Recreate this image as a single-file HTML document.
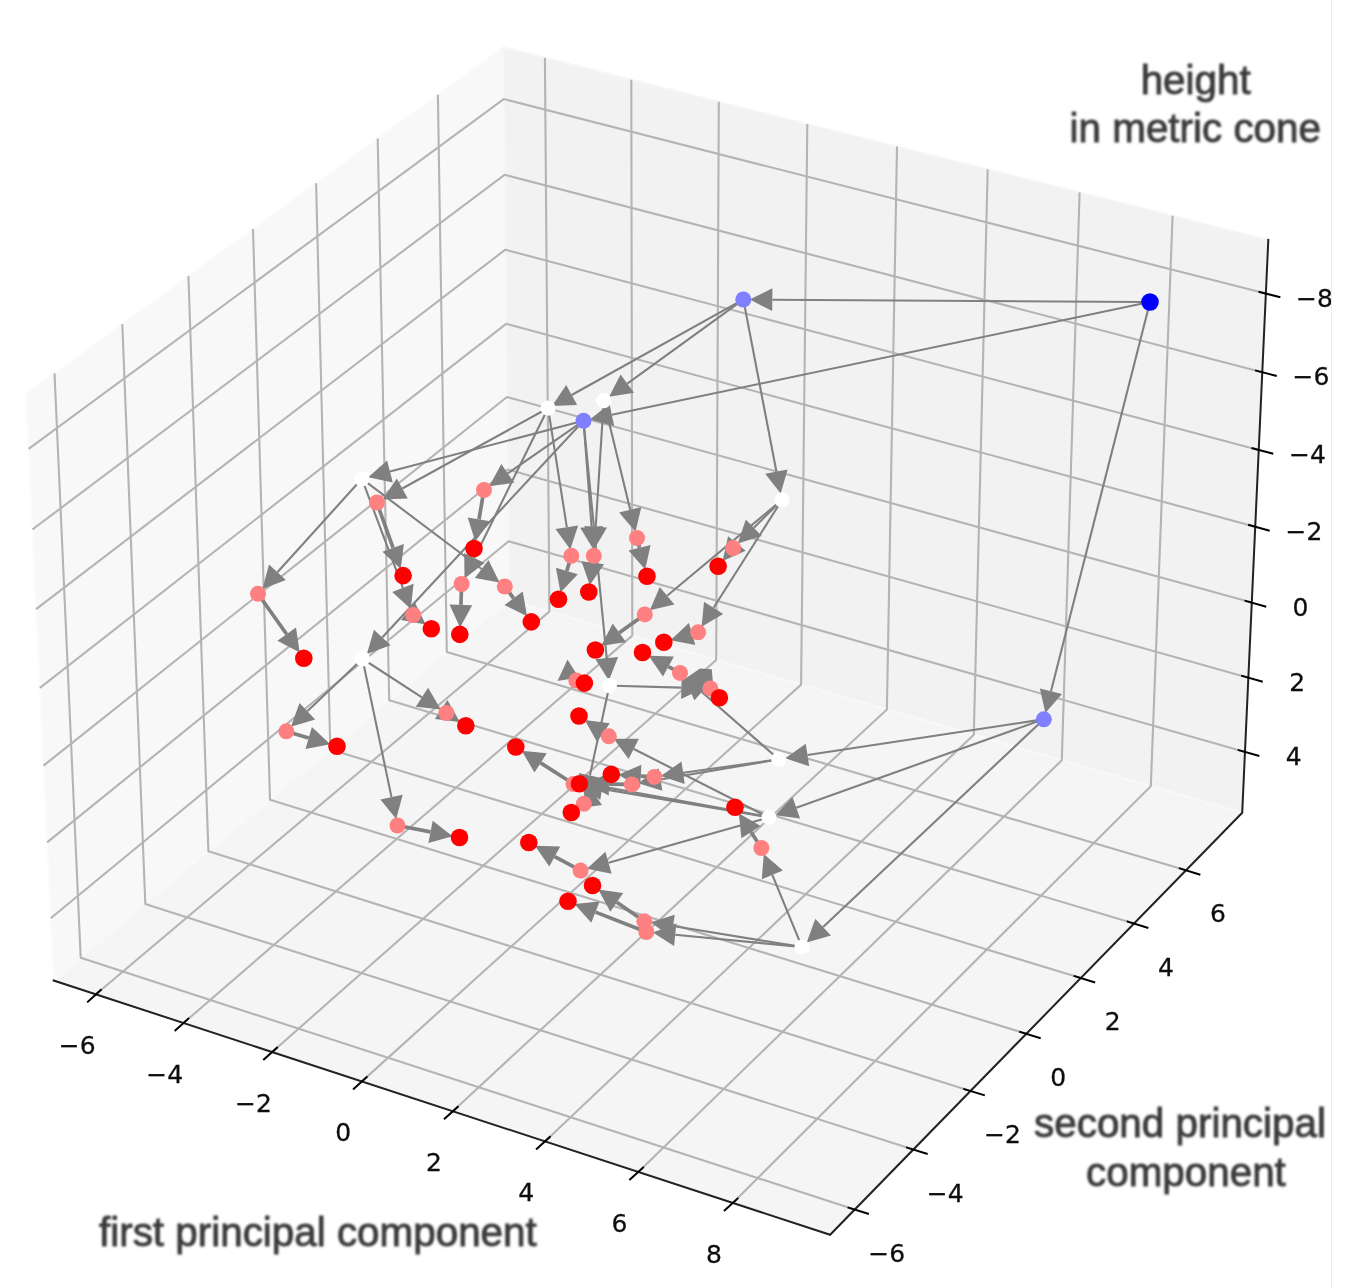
<!DOCTYPE html>
<html><head><meta charset="utf-8"><title>plot</title>
<style>
html,body{margin:0;padding:0;background:#fff;}
body{width:1360px;height:1288px;overflow:hidden;position:relative;}
svg{position:absolute;left:0;top:0;display:block;}
.edge{position:absolute;left:1331px;top:0;width:1px;height:1288px;background:#ececec;}
</style></head><body>
<svg width="1360" height="1288" viewBox="0 0 1360 1288">
<defs>
<filter id="b1" x="-5%" y="-5%" width="110%" height="110%"><feGaussianBlur stdDeviation="0.7"/></filter>
<filter id="b2" x="-5%" y="-5%" width="110%" height="110%"><feGaussianBlur stdDeviation="0.7"/></filter>
<filter id="b3" x="-5%" y="-5%" width="110%" height="110%"><feGaussianBlur stdDeviation="1.0"/></filter>
<clipPath id="cl"><rect x="0" y="0" width="1331" height="1288"/></clipPath>
</defs>
<g clip-path="url(#cl)">
<g stroke-linejoin="round">
<polygon points="53.7,980.5 509.2,599.9 503.1,47.4 26.0,393.9" fill="#f8f8f8" stroke="#fbfbfb" stroke-width="2"/>
<polygon points="509.2,599.9 1242.2,812.7 1268.3,239.9 503.1,47.4" fill="#f2f2f2" stroke="#f6f6f6" stroke-width="2"/>
<polygon points="53.7,980.5 830.1,1234.8 1242.2,812.7 509.2,599.9" fill="#f5f5f5" stroke="#f8f8f8" stroke-width="2"/>
</g>
<g fill="none" stroke="#b4b4b4" stroke-width="2.1" stroke-linejoin="round" filter="url(#b1)">
<polyline points="96.0,994.3 549.4,611.6 544.9,57.9"/>
<polyline points="183.5,1023.0 632.3,635.6 631.3,79.7"/>
<polyline points="272.2,1052.0 716.2,660.0 718.8,101.7"/>
<polyline points="361.9,1081.4 801.1,684.6 807.3,123.9"/>
<polyline points="452.8,1111.2 886.9,709.6 897.0,146.5"/>
<polyline points="545.0,1141.4 973.8,734.8 987.7,169.3"/>
<polyline points="638.3,1172.0 1061.8,760.3 1079.6,192.4"/>
<polyline points="732.8,1202.9 1150.8,786.2 1172.6,215.8"/>
<polyline points="854.7,1209.6 80.7,957.8 54.5,373.2"/>
<polyline points="913.3,1149.6 145.3,903.9 122.3,324.0"/>
<polyline points="970.5,1091.0 208.4,851.2 188.4,275.9"/>
<polyline points="1026.3,1033.8 270.0,799.7 253.0,229.0"/>
<polyline points="1080.8,978.0 330.3,749.4 316.1,183.2"/>
<polyline points="1134.0,923.5 389.2,700.2 377.7,138.4"/>
<polyline points="1186.0,870.3 446.8,652.0 437.9,94.7"/>
<polyline points="28.6,448.9 503.7,99.1 1265.8,293.6"/>
<polyline points="32.4,529.5 504.5,174.8 1262.3,372.2"/>
<polyline points="36.1,609.2 505.3,249.7 1258.7,449.9"/>
<polyline points="39.9,687.8 506.1,323.8 1255.2,526.7"/>
<polyline points="43.5,765.6 507.0,397.0 1251.8,602.6"/>
<polyline points="47.1,842.4 507.8,469.5 1248.4,677.7"/>
<polyline points="50.7,918.3 508.6,541.2 1245.0,751.9"/>
</g>
<g stroke="#808080" stroke-width="2.1" fill="#808080" filter="url(#b2)">
<line x1="1146.0" y1="302.0" x2="772.3" y2="299.7"/>
<polygon points="749.8,299.5 772.4,288.3 772.2,311.1" stroke="none"/>
<line x1="1146.1" y1="302.8" x2="611.9" y2="414.8"/>
<polygon points="589.9,419.5 609.5,403.7 614.2,426.0" stroke="none"/>
<line x1="1149.0" y1="305.9" x2="1051.0" y2="691.2"/>
<polygon points="1045.4,713.0 1039.9,688.4 1062.0,694.0" stroke="none"/>
<line x1="739.8" y1="301.4" x2="571.7" y2="395.0"/>
<polygon points="552.0,405.9 566.2,385.0 577.2,404.9" stroke="none"/>
<line x1="740.1" y1="301.8" x2="627.3" y2="383.6"/>
<polygon points="609.1,396.8 620.6,374.4 634.0,392.8" stroke="none"/>
<line x1="744.1" y1="303.4" x2="776.4" y2="471.5"/>
<polygon points="780.7,493.6 765.2,473.7 787.6,469.4" stroke="none"/>
<line x1="1039.8" y1="719.9" x2="807.5" y2="755.0"/>
<polygon points="785.2,758.3 805.8,743.7 809.2,766.2" stroke="none"/>
<line x1="1040.0" y1="720.6" x2="796.3" y2="807.7"/>
<polygon points="775.1,815.3 792.5,797.0 800.1,818.5" stroke="none"/>
<line x1="1040.9" y1="722.0" x2="823.1" y2="927.1"/>
<polygon points="806.7,942.5 815.3,918.8 830.9,935.4" stroke="none"/>
<line x1="580.8" y1="423.7" x2="382.2" y2="637.5"/>
<polygon points="366.9,654.0 373.9,629.8 390.6,645.3" stroke="none"/>
<line x1="579.6" y1="421.8" x2="390.0" y2="471.5"/>
<polygon points="368.2,477.2 387.1,460.4 392.8,482.5" stroke="none"/>
<line x1="583.9" y1="424.8" x2="606.7" y2="658.2"/>
<polygon points="608.9,680.6 595.4,659.3 618.1,657.1" stroke="none"/>
<line x1="580.2" y1="423.1" x2="507.8" y2="473.4"/>
<polygon points="489.3,486.3 501.3,464.1 514.3,482.8" stroke="none"/>
<line x1="583.8" y1="424.8" x2="591.6" y2="526.9"/>
<polygon points="593.3,549.3 580.2,527.8 603.0,526.0" stroke="none"/>
<line x1="544.6" y1="410.0" x2="402.3" y2="488.5"/>
<polygon points="382.6,499.4 396.8,478.5 407.8,498.5" stroke="none"/>
<line x1="546.3" y1="411.7" x2="474.4" y2="558.0"/>
<polygon points="464.5,578.2 464.2,552.9 484.6,563.0" stroke="none"/>
<line x1="548.7" y1="412.1" x2="566.8" y2="527.2"/>
<polygon points="570.3,549.4 555.5,528.9 578.1,525.4" stroke="none"/>
<line x1="603.5" y1="404.6" x2="595.7" y2="526.9"/>
<polygon points="594.2,549.3 584.3,526.1 607.0,527.6" stroke="none"/>
<line x1="604.7" y1="404.5" x2="630.2" y2="509.8"/>
<polygon points="635.5,531.7 619.1,512.5 641.3,507.1" stroke="none"/>
<line x1="779.1" y1="502.8" x2="753.8" y2="527.7"/>
<polygon points="737.7,543.5 745.8,519.6 761.8,535.9" stroke="none"/>
<line x1="778.8" y1="502.6" x2="667.1" y2="595.8"/>
<polygon points="649.8,610.2 659.8,587.1 674.4,604.6" stroke="none"/>
<line x1="779.8" y1="503.4" x2="713.6" y2="607.8"/>
<polygon points="701.6,626.8 704.0,601.7 723.2,613.9" stroke="none"/>
<line x1="359.2" y1="481.8" x2="277.4" y2="572.3"/>
<polygon points="262.4,589.0 269.0,564.6 285.9,579.9" stroke="none"/>
<line x1="363.3" y1="482.5" x2="402.9" y2="587.9"/>
<polygon points="410.8,608.9 392.2,591.9 413.6,583.8" stroke="none"/>
<line x1="365.1" y1="481.2" x2="481.6" y2="569.0"/>
<polygon points="499.6,582.6 474.8,578.1 488.5,559.9" stroke="none"/>
<line x1="359.6" y1="661.6" x2="307.3" y2="711.3"/>
<polygon points="291.0,726.8 299.5,703.1 315.2,719.6" stroke="none"/>
<line x1="365.9" y1="661.0" x2="421.9" y2="697.3"/>
<polygon points="440.8,709.5 415.8,706.8 428.1,687.7" stroke="none"/>
<line x1="363.3" y1="662.7" x2="391.5" y2="797.1"/>
<polygon points="396.2,819.1 380.4,799.5 402.7,794.8" stroke="none"/>
<line x1="613.4" y1="685.7" x2="681.4" y2="687.6"/>
<polygon points="703.9,688.2 681.1,699.0 681.7,676.2" stroke="none"/>
<line x1="608.6" y1="689.5" x2="589.9" y2="775.5"/>
<polygon points="585.2,797.4 578.8,773.0 601.1,777.9" stroke="none"/>
<line x1="774.8" y1="759.9" x2="683.1" y2="772.8"/>
<polygon points="660.8,776.0 681.5,761.5 684.7,784.1" stroke="none"/>
<line x1="775.8" y1="756.7" x2="701.8" y2="692.0"/>
<polygon points="684.9,677.2 709.3,683.4 694.3,700.6" stroke="none"/>
<line x1="774.9" y1="760.0" x2="660.5" y2="779.5"/>
<polygon points="638.3,783.3 658.6,768.3 662.4,790.8" stroke="none"/>
<line x1="765.4" y1="815.7" x2="633.8" y2="749.0"/>
<polygon points="613.7,738.8 638.9,738.8 628.6,759.1" stroke="none"/>
<line x1="765.1" y1="818.6" x2="608.5" y2="862.7"/>
<polygon points="586.9,868.8 605.4,851.8 611.6,873.7" stroke="none"/>
<line x1="765.1" y1="816.8" x2="602.1" y2="788.9"/>
<polygon points="579.9,785.1 604.0,777.7 600.2,800.1" stroke="none"/>
<line x1="798.1" y1="946.4" x2="672.9" y2="926.0"/>
<polygon points="650.7,922.3 674.8,914.7 671.1,937.2" stroke="none"/>
<line x1="798.0" y1="946.6" x2="675.2" y2="934.8"/>
<polygon points="652.8,932.6 676.3,923.4 674.1,946.1" stroke="none"/>
<line x1="800.5" y1="943.3" x2="772.3" y2="874.8"/>
<polygon points="763.8,854.0 782.9,870.5 761.8,879.2" stroke="none"/>
<line x1="378.2" y1="506.3" x2="393.1" y2="547.8" stroke-width="3.7"/>
<polygon points="400.7,569.0 382.4,551.7 403.9,544.0" stroke="none"/>
<line x1="483.3" y1="493.9" x2="479.0" y2="519.4" stroke-width="3.7"/>
<polygon points="475.2,541.6 467.7,517.5 490.2,521.3" stroke="none"/>
<line x1="260.3" y1="597.1" x2="286.7" y2="634.2" stroke-width="3.7"/>
<polygon points="299.7,652.6 277.4,640.8 296.0,627.6" stroke="none"/>
<line x1="461.5" y1="588.0" x2="460.9" y2="604.9" stroke-width="3.7"/>
<polygon points="460.0,627.4 449.5,604.5 472.2,605.3" stroke="none"/>
<line x1="507.2" y1="589.7" x2="513.6" y2="598.3" stroke-width="3.7"/>
<polygon points="527.1,616.3 504.5,605.1 522.7,591.5" stroke="none"/>
<line x1="570.2" y1="559.6" x2="566.8" y2="571.0" stroke-width="3.7"/>
<polygon points="560.5,592.6 555.9,567.8 577.8,574.2" stroke="none"/>
<line x1="593.3" y1="559.8" x2="592.8" y2="562.8" stroke-width="3.7"/>
<polygon points="589.8,585.1 581.5,561.2 604.1,564.3" stroke="none"/>
<line x1="638.0" y1="541.9" x2="639.5" y2="547.8" stroke-width="3.7"/>
<polygon points="645.2,569.5 628.5,550.6 650.6,544.9" stroke="none"/>
<line x1="730.6" y1="551.2" x2="736.9" y2="543.5" stroke-width="3.7"/>
<polygon points="722.6,560.9 728.1,536.3 745.7,550.8" stroke="none"/>
<line x1="416.3" y1="617.4" x2="407.8" y2="611.0" stroke-width="3.7"/>
<polygon points="425.7,624.6 400.9,620.1 414.7,601.9" stroke="none"/>
<line x1="290.1" y1="732.4" x2="308.7" y2="737.9" stroke-width="3.7"/>
<polygon points="330.3,744.3 305.5,748.9 311.9,727.0" stroke="none"/>
<line x1="449.6" y1="715.2" x2="441.1" y2="709.6" stroke-width="3.7"/>
<polygon points="459.9,722.0 434.9,719.1 447.4,700.1" stroke="none"/>
<line x1="401.4" y1="826.3" x2="430.5" y2="831.9" stroke-width="3.7"/>
<polygon points="452.6,836.2 428.4,843.1 432.7,820.7" stroke="none"/>
<line x1="641.6" y1="616.7" x2="619.3" y2="632.8" stroke-width="3.7"/>
<polygon points="601.1,645.9 612.7,623.5 626.0,642.0" stroke="none"/>
<line x1="694.3" y1="633.4" x2="692.1" y2="634.0" stroke-width="3.7"/>
<polygon points="670.5,640.3 688.9,623.1 695.3,645.0" stroke="none"/>
<line x1="676.5" y1="671.0" x2="668.4" y2="666.6" stroke-width="3.7"/>
<polygon points="648.6,655.8 673.9,656.6 663.0,676.6" stroke="none"/>
<line x1="605.5" y1="734.0" x2="603.4" y2="732.6" stroke-width="3.7"/>
<polygon points="584.8,719.9 609.8,723.2 597.0,742.0" stroke="none"/>
<line x1="627.9" y1="784.4" x2="608.9" y2="784.1" stroke-width="3.7"/>
<polygon points="586.4,783.9 609.0,772.7 608.8,795.5" stroke="none"/>
<line x1="650.4" y1="776.7" x2="640.8" y2="776.1" stroke-width="3.7"/>
<polygon points="618.3,774.8 641.4,764.7 640.1,787.5" stroke="none"/>
<line x1="580.5" y1="806.1" x2="595.5" y2="795.6" stroke-width="3.7"/>
<polygon points="577.0,808.5 589.0,786.3 602.0,805.0" stroke="none"/>
<line x1="577.1" y1="868.7" x2="554.7" y2="856.6" stroke-width="3.7"/>
<polygon points="535.0,845.8 560.2,846.5 549.3,866.6" stroke="none"/>
<line x1="641.0" y1="919.0" x2="616.8" y2="902.3" stroke-width="3.7"/>
<polygon points="598.3,889.5 623.2,892.9 610.3,911.7" stroke="none"/>
<line x1="642.6" y1="930.5" x2="595.5" y2="912.1" stroke-width="3.7"/>
<polygon points="574.5,903.9 599.6,901.5 591.3,922.7" stroke="none"/>
<line x1="759.1" y1="844.6" x2="751.0" y2="832.1" stroke-width="3.7"/>
<polygon points="738.8,813.2 760.6,825.9 741.4,838.3" stroke="none"/>
<line x1="570.1" y1="781.8" x2="540.6" y2="762.9" stroke-width="3.7"/>
<polygon points="521.7,750.8 546.8,753.3 534.5,772.5" stroke="none"/>
<line x1="769" y1="817" x2="597" y2="785.6"/>
<polygon points="567.5,659.5 557.5,681.0 578.8,677.5" stroke="none"/>
<polygon points="685.5,678.5 700.0,668.6 711.8,669.3 713.0,684.0 704.0,692.0 688.0,690.0" stroke="none"/>
</g>
<g filter="url(#b2)">
<circle cx="1150" cy="302" r="8.8" fill="#0000ff"/>
<circle cx="743.3" cy="299.5" r="8.0" fill="#8080ff"/>
<circle cx="583.5" cy="420.8" r="8.0" fill="#8080ff"/>
<circle cx="1043.8" cy="719.3" r="8.0" fill="#8080ff"/>
<circle cx="548.1" cy="408.1" r="7.6" fill="#ffffff"/>
<circle cx="603.8" cy="400.6" r="7.6" fill="#ffffff"/>
<circle cx="781.9" cy="500" r="7.6" fill="#ffffff"/>
<circle cx="361.9" cy="478.8" r="7.6" fill="#ffffff"/>
<circle cx="362.5" cy="658.8" r="7.6" fill="#ffffff"/>
<circle cx="609.4" cy="685.6" r="7.6" fill="#ffffff"/>
<circle cx="778.8" cy="759.3" r="7.6" fill="#ffffff"/>
<circle cx="769" cy="817.5" r="7.6" fill="#ffffff"/>
<circle cx="802" cy="947" r="7.6" fill="#ffffff"/>
<circle cx="376.9" cy="502.5" r="8.0" fill="#ff8080"/>
<circle cx="403.1" cy="575.6" r="8.8" fill="#ff0000"/>
<circle cx="484" cy="490" r="8.0" fill="#ff8080"/>
<circle cx="474" cy="548.5" r="8.8" fill="#ff0000"/>
<circle cx="258" cy="593.8" r="8.0" fill="#ff8080"/>
<circle cx="303.8" cy="658.3" r="8.8" fill="#ff0000"/>
<circle cx="461.6" cy="584" r="8.0" fill="#ff8080"/>
<circle cx="459.8" cy="634.4" r="8.8" fill="#ff0000"/>
<circle cx="504.8" cy="586.5" r="8.0" fill="#ff8080"/>
<circle cx="531.3" cy="621.9" r="8.8" fill="#ff0000"/>
<circle cx="571.3" cy="555.8" r="8.0" fill="#ff8080"/>
<circle cx="558.5" cy="599.3" r="8.8" fill="#ff0000"/>
<circle cx="593.8" cy="555.8" r="8.0" fill="#ff8080"/>
<circle cx="588.8" cy="592" r="8.8" fill="#ff0000"/>
<circle cx="637" cy="538" r="8.0" fill="#ff8080"/>
<circle cx="647" cy="576.3" r="8.8" fill="#ff0000"/>
<circle cx="733.1" cy="548.1" r="8.0" fill="#ff8080"/>
<circle cx="718.1" cy="566.3" r="8.8" fill="#ff0000"/>
<circle cx="413.1" cy="615" r="8.0" fill="#ff8080"/>
<circle cx="431.3" cy="628.8" r="8.8" fill="#ff0000"/>
<circle cx="286.3" cy="731.3" r="8.0" fill="#ff8080"/>
<circle cx="337" cy="746.3" r="8.8" fill="#ff0000"/>
<circle cx="446.3" cy="713" r="8.0" fill="#ff8080"/>
<circle cx="465.8" cy="725.8" r="8.8" fill="#ff0000"/>
<circle cx="397.5" cy="825.5" r="8.0" fill="#ff8080"/>
<circle cx="459.5" cy="837.5" r="8.8" fill="#ff0000"/>
<circle cx="644.8" cy="614.4" r="8.0" fill="#ff8080"/>
<circle cx="595.4" cy="650" r="8.8" fill="#ff0000"/>
<circle cx="698.1" cy="632.3" r="8.0" fill="#ff8080"/>
<circle cx="663.8" cy="642.3" r="8.8" fill="#ff0000"/>
<circle cx="680" cy="672.9" r="8.0" fill="#ff8080"/>
<circle cx="642.5" cy="652.5" r="8.8" fill="#ff0000"/>
<circle cx="710.4" cy="688.4" r="8.0" fill="#ff8080"/>
<circle cx="719.4" cy="697.8" r="8.8" fill="#ff0000"/>
<circle cx="576.3" cy="680.5" r="8.0" fill="#ff8080"/>
<circle cx="584.4" cy="683.1" r="8.8" fill="#ff0000"/>
<circle cx="608.8" cy="736.3" r="8.0" fill="#ff8080"/>
<circle cx="579" cy="716" r="8.8" fill="#ff0000"/>
<circle cx="631.9" cy="784.4" r="8.0" fill="#ff8080"/>
<circle cx="654.4" cy="776.9" r="8.0" fill="#ff8080"/>
<circle cx="611.3" cy="774.4" r="8.8" fill="#ff0000"/>
<circle cx="573.5" cy="784" r="8.0" fill="#ff8080"/>
<circle cx="579.4" cy="783.8" r="8.8" fill="#ff0000"/>
<circle cx="583.8" cy="803.8" r="8.0" fill="#ff8080"/>
<circle cx="571.3" cy="812.5" r="8.8" fill="#ff0000"/>
<circle cx="515.8" cy="747" r="8.8" fill="#ff0000"/>
<circle cx="580.6" cy="870.6" r="8.0" fill="#ff8080"/>
<circle cx="528.8" cy="842.5" r="8.8" fill="#ff0000"/>
<circle cx="644.3" cy="921.3" r="8.0" fill="#ff8080"/>
<circle cx="592.5" cy="885.5" r="8.8" fill="#ff0000"/>
<circle cx="646.3" cy="932" r="8.0" fill="#ff8080"/>
<circle cx="568" cy="901.3" r="8.8" fill="#ff0000"/>
<circle cx="761.3" cy="848" r="8.0" fill="#ff8080"/>
<circle cx="735" cy="807.3" r="8.8" fill="#ff0000"/>
</g>
<g fill="none" stroke="#000" stroke-width="2" stroke-linecap="square" filter="url(#b1)">
<polyline points="53.7,980.5 830.1,1234.8 1242.2,812.7 1268.3,239.9" stroke="#222"/>
<line x1="100.8" y1="990.0" x2="87.9" y2="1001.7"/>
<line x1="188.4" y1="1018.6" x2="175.4" y2="1030.4"/>
<line x1="277.0" y1="1047.7" x2="264.0" y2="1059.4"/>
<line x1="366.7" y1="1077.1" x2="353.8" y2="1088.8"/>
<line x1="457.7" y1="1106.9" x2="444.7" y2="1118.6"/>
<line x1="549.8" y1="1137.0" x2="536.8" y2="1148.8"/>
<line x1="643.1" y1="1167.6" x2="630.1" y2="1179.3"/>
<line x1="737.6" y1="1198.6" x2="724.7" y2="1210.3"/>
<line x1="848.5" y1="1207.7" x2="868.0" y2="1213.7"/>
<line x1="907.1" y1="1147.6" x2="926.7" y2="1153.7"/>
<line x1="964.3" y1="1089.1" x2="983.9" y2="1095.1"/>
<line x1="1020.1" y1="1031.9" x2="1039.7" y2="1038.0"/>
<line x1="1074.6" y1="976.1" x2="1094.2" y2="982.2"/>
<line x1="1127.8" y1="921.6" x2="1147.4" y2="927.7"/>
<line x1="1179.8" y1="868.4" x2="1199.4" y2="874.4"/>
<line x1="1259.5" y1="292.0" x2="1279.4" y2="297.0"/>
<line x1="1256.0" y1="370.6" x2="1275.8" y2="375.7"/>
<line x1="1252.4" y1="448.2" x2="1272.3" y2="453.5"/>
<line x1="1249.0" y1="525.0" x2="1268.7" y2="530.4"/>
<line x1="1245.5" y1="600.9" x2="1265.3" y2="606.4"/>
<line x1="1242.1" y1="675.9" x2="1261.8" y2="681.5"/>
<line x1="1238.7" y1="750.1" x2="1258.4" y2="755.8"/>
</g>
<g font-family="'DejaVu Sans','Liberation Sans',sans-serif" font-size="25" fill="#111" stroke="#111" stroke-width="0.3" text-anchor="middle" filter="url(#b1)">
<text x="77.2" y="1054.0">−6</text>
<text x="164.7" y="1082.7">−4</text>
<text x="253.4" y="1111.7">−2</text>
<text x="343.1" y="1141.1">0</text>
<text x="434.0" y="1170.9">2</text>
<text x="526.2" y="1201.1">4</text>
<text x="619.5" y="1231.7">6</text>
<text x="714.0" y="1262.6">8</text>
<text x="886.7" y="1261.7">−6</text>
<text x="945.3" y="1201.7">−4</text>
<text x="1002.5" y="1143.1">−2</text>
<text x="1058.3" y="1085.9">0</text>
<text x="1112.8" y="1030.1">2</text>
<text x="1166.0" y="975.6">4</text>
<text x="1218.0" y="922.4">6</text>
<text x="1314.5" y="306.7">−8</text>
<text x="1311.0" y="385.3">−6</text>
<text x="1307.4" y="463.0">−4</text>
<text x="1303.9" y="539.8">−2</text>
<text x="1300.5" y="615.7">0</text>
<text x="1297.1" y="690.8">2</text>
<text x="1293.7" y="765.0">4</text>
</g>
<g font-family="'Liberation Sans',Arial,Helvetica,sans-serif" font-size="40.4" fill="#3a3a3a" stroke="#3a3a3a" stroke-width="0.9" text-anchor="middle" filter="url(#b3)">
<text x="1195.7" y="94.3">height</text>
<text x="1195.3" y="142.2">in metric cone</text>
<text x="1180" y="1137.3">second principal</text>
<text x="1185.9" y="1186">component</text>
<text x="317.9" y="1246.2">first principal component</text>
</g>
</g>
</svg>
<div class="edge"></div>
</body></html>
